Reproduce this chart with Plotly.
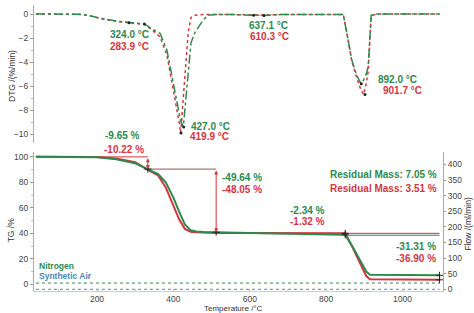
import plotly.graph_objects as go

# ---------------- data ----------------
dtg_T = [40, 100, 150, 175, 208, 252, 284, 310, 324, 347, 365, 383, 400, 415, 419, 426, 432, 439, 446, 457, 478, 491, 510,
         560, 610, 640, 680, 750, 820, 845, 858, 867, 880, 891, 898, 905, 910, 915, 918, 930, 1000, 1097]
dtg_n2 = [0, 0, -0.02, -0.1, -0.35, -0.6, -0.72, -0.78, -0.83, -1.3, -1.6, -3.0, -5.8, -8.3, -8.9, -9.4, -7.2, -4.4, -2.4, -1.5, -0.5, -0.1, -0.04,
          -0.05, -0.08, -0.12, -0.05, -0.03, -0.03, -0.05, -2.2, -3.8, -5.1, -5.8, -5.5, -5.0, -4.4, -1.6, -0.1, 0, 0, 0]
dtg_air = [0, 0, -0.02, -0.1, -0.38, -0.62, -0.75, -0.8, -0.86, -1.4, -1.9, -3.4, -6.3, -9.0, -9.9, -7.0, -4.5, -1.5, -0.3, -0.1, -0.05, -0.04, -0.04,
           -0.05, -0.1, -0.08, -0.05, -0.03, -0.03, -0.05, -2.3, -3.9, -5.3, -6.3, -6.7, -5.8, -4.8, -2.0, -0.2, 0, 0, 0]

tg_T = [40, 150, 200, 250, 300, 333, 360, 380, 400, 415, 430, 445, 460, 480, 512, 600, 700, 800, 850, 870, 890, 905, 915, 1000, 1097]
tg_n2 = [100, 100, 99.6, 98.2, 95.0, 90.4, 86.5, 80, 68, 57, 47, 42.5, 41.4, 41.0, 40.9, 40.3, 39.7, 39.1, 38.8, 29, 18, 10, 7.4, 7.2, 7.05]
tg_air = [100, 100, 99.8, 98.8, 95.8, 89.8, 85.5, 76, 62, 51, 43.5, 41.3, 40.8, 40.5, 40.3, 40.2, 40.1, 40.0, 40.0, 28.5, 16, 6.5, 4.0, 3.7, 3.51]

flow_T = [40, 1097]
flow_n2 = [20, 20]
flow_air = [0, 0]

dtg_peaks_T = [324.0, 427.0, 637.1, 892.0, 283.9, 419.9, 610.3, 901.7]
dtg_peaks_v = [-0.83, -9.4, -0.12, -5.8, -0.72, -9.9, -0.1, -6.7]

step_T = [333, 512, 850, 850, 1097, 1097]
step_v = [90.4, 40.9, 40.0, 38.8, 7.05, 3.51]

GREEN = "#2d8a4e"
RED = "#d2363f"
BLUE = "#4a88b8"
BROWN = "#8a5a48"
FONT = "Liberation Sans, Arial, sans-serif"

fig = go.Figure()

# DTG (top panel)
fig.add_trace(go.Scatter(x=dtg_T, y=dtg_air, mode="lines", xaxis="x2", yaxis="y3",
                         line=dict(color=RED, width=1.5, dash="dot"), showlegend=False))
fig.add_trace(go.Scatter(x=dtg_T, y=dtg_n2, mode="lines", xaxis="x2", yaxis="y3",
                         line=dict(color=GREEN, width=1.5, dash="dashdot"), showlegend=False))
fig.add_trace(go.Scatter(x=dtg_peaks_T, y=dtg_peaks_v, mode="markers", xaxis="x2", yaxis="y3",
                         marker=dict(color="#222", size=3), showlegend=False))

# TG (bottom panel)
fig.add_trace(go.Scatter(x=[40, 333], y=[100, 100], mode="lines", line=dict(color=RED, width=1), showlegend=False))
fig.add_trace(go.Scatter(x=[333, 512], y=[90.4, 90.4], mode="lines", line=dict(color=BROWN, width=1), showlegend=False))
fig.add_trace(go.Scatter(x=[850, 1097], y=[40.0, 40.0], mode="lines", line=dict(color=RED, width=1), showlegend=False))
fig.add_trace(go.Scatter(x=[850, 1097], y=[38.5, 38.5], mode="lines", line=dict(color=GREEN, width=1), showlegend=False))
fig.add_trace(go.Scatter(x=tg_T, y=tg_air, mode="lines", line=dict(color=RED, width=2), showlegend=False))
fig.add_trace(go.Scatter(x=tg_T, y=tg_n2, mode="lines", line=dict(color=GREEN, width=2), showlegend=False))
fig.add_trace(go.Scatter(x=step_T, y=step_v, mode="markers",
                         marker=dict(color="#222", size=5, symbol="cross-thin", line=dict(width=1, color="#222")),
                         showlegend=False))

# Flow (right axis)
fig.add_trace(go.Scatter(x=flow_T, y=flow_n2, mode="lines", yaxis="y2",
                         line=dict(color=GREEN, width=1, dash="dot"), showlegend=False))
fig.add_trace(go.Scatter(x=flow_T, y=flow_air, mode="lines", yaxis="y2",
                         line=dict(color=BLUE, width=1, dash="dot"), showlegend=False))

ann = []

PB = 290.7      # plot-area bottom (px)
PH = 285.7      # plot-area height (px)


def py2paper(py):
    return (PB - py) / PH


def txt(x, y, s, color, xref="x", yref="y", xanchor="center", size=10, bold=True):
    ann.append(dict(x=x, y=y, xref=xref, yref=yref, text=("<b>%s</b>" % s) if bold else s,
                    showarrow=False, xanchor=xanchor, yanchor="middle",
                    font=dict(color=color, size=size, family=FONT)))


# DTG labels
txt(286, -1.67, "324.0 °C", GREEN, "x2", "y3")
txt(286, -2.72, "283.9 °C", RED, "x2", "y3")
txt(496, -9.39, "427.0 °C", GREEN, "x2", "y3")
txt(494, -10.17, "419.9 °C", RED, "x2", "y3")
txt(650, -0.92, "637.1 °C", GREEN, "x2", "y3")
txt(651, -1.89, "610.3 °C", RED, "x2", "y3")
txt(986, -5.42, "892.0 °C", GREEN, "x2", "y3")
txt(1001, -6.39, "901.7 °C", RED, "x2", "y3")

# TG labels
txt(268, py2paper(135.7), "-9.65 %", GREEN, "x", "paper")
txt(270, py2paper(149.3), "-10.22 %", RED, "x", "paper")
txt(580, 83.8, "-49.64 %", GREEN)
txt(580, 74.4, "-48.05 %", RED)
txt(752, 58.1, "-2.34 %", GREEN)
txt(752, 48.9, "-1.32 %", RED)
txt(1096, 86.2, "Residual Mass: 7.05 %", GREEN, xanchor="right")
txt(1096, 75.2, "Residual Mass: 3.51 %", RED, xanchor="right")
txt(1094, 29.3, "-31.31 %", GREEN, xanchor="right")
txt(1094, 20.2, "-36.90 %", RED, xanchor="right")
txt(42, 14.1, "Nitrogen", GREEN, xanchor="left", size=8.5)
txt(42, 6.3, "Synthetic Air", BLUE, xanchor="left", size=8.5)

# arrows
for (xa, y0, y1) in [(333, 100, 90.4), (512, 90.4, 40.9)]:
    ann.append(dict(x=xa, y=y1, ax=xa, ay=y0, xref="x", yref="y", axref="x", ayref="y",
                    showarrow=True, arrowhead=2, arrowside="end+start", arrowsize=0.8,
                    arrowwidth=1, arrowcolor=RED, text=""))

# axis titles
AX = "#333"


def title(x, y, s, angle, size=8.5):
    ann.append(dict(x=x, y=y, xref="paper", yref="paper", text=s, textangle=angle,
                    xanchor="center", yanchor="middle",
                    showarrow=False, font=dict(size=size, color=AX, family=FONT)))


title(-0.054, py2paper(76), "DTG /(%/min)", -90)
title(-0.056, py2paper(230), "TG /%", -90)
title(1.062, py2paper(223), "Flow /(ml/min)", -90)
title(0.487, py2paper(308.5), "Temperature /°C", 0, 8)

tickfont = dict(size=8.5, color="#444", family=FONT)
XR = [35, 1106]

fig.update_layout(
    width=474, height=313, margin=dict(l=34, r=31.3, t=5, b=313 - PB),
    paper_bgcolor="white", plot_bgcolor="white", showlegend=False,
    font=dict(family=FONT),
    annotations=ann,
    xaxis=dict(domain=[0, 1], anchor="y", range=XR, showgrid=False, zeroline=False,
               showline=True, linecolor="#cccccc", linewidth=1,
               tickvals=[200, 400, 600, 800, 1000], ticks="inside", ticklen=2, tickcolor="#bbb",
               minor=dict(tickvals=[100, 300, 500, 700, 900], ticks="inside", ticklen=2, tickcolor="#ccc"),
               tickfont=tickfont),
    xaxis2=dict(domain=[0, 1], anchor="y3", range=XR, matches="x", showgrid=False, zeroline=False,
                showline=False, showticklabels=False, ticks=""),
    yaxis=dict(domain=[0, py2paper(152)], range=[-5.26, 103.7], showgrid=False, zeroline=False,
               showline=True, linecolor="#aaaaaa", linewidth=1,
               tickvals=[0, 20, 40, 60, 80, 100], ticks="outside", ticklen=3, tickcolor="#999",
               minor=dict(tickvals=[10, 30, 50, 70, 90], ticks="outside", ticklen=2, tickcolor="#bbb"),
               tickfont=tickfont),
    yaxis2=dict(overlaying="y", side="right", anchor="x", range=[-5.45, 439.5], showgrid=False, zeroline=False,
                showline=True, linecolor="#aaaaaa", linewidth=1,
                tickvals=[0, 50, 100, 150, 200, 250, 300, 350, 400], ticks="outside", ticklen=2, tickcolor="#999",
                tickfont=tickfont),
    yaxis3=dict(domain=[py2paper(143), 1], anchor="x2", range=[-10.75, 0.75], showgrid=False, zeroline=False,
                showline=True, linecolor="#aaaaaa", linewidth=1,
                tickvals=[0, -2, -4, -6, -8, -10], ticks="outside", ticklen=3, tickcolor="#999",
                minor=dict(tickvals=[-1, -3, -5, -7, -9], ticks="outside", ticklen=2, tickcolor="#bbb"),
                tickfont=tickfont),
)

fig.write_html("out.html")
